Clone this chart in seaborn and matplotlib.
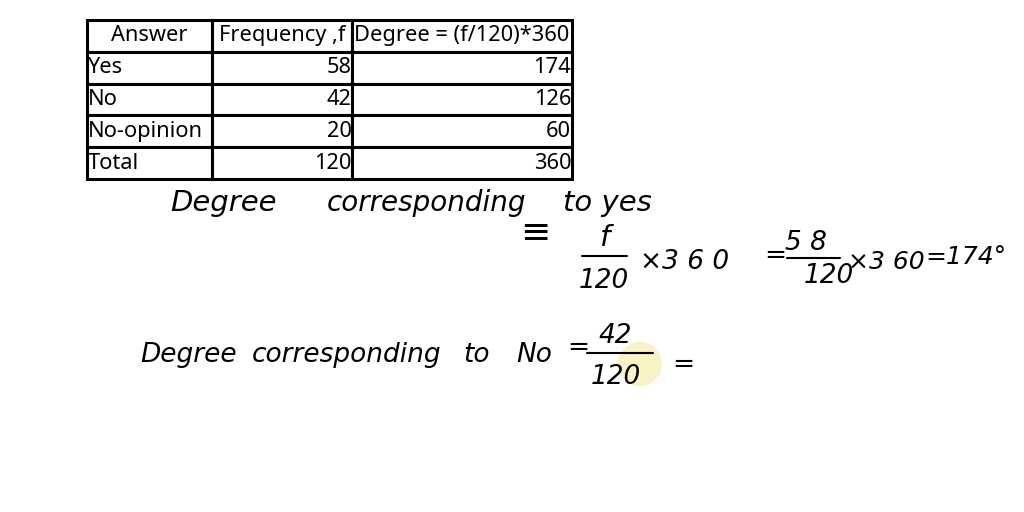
import matplotlib.pyplot as plt
import seaborn as sns
from matplotlib.patches import Circle

sns.set_theme(style='white')
plt.rcParams['font.family'] = ['Noto Sans', 'DejaVu Sans']

answers = ['Yes', 'No', 'No-opinion', 'Total']
freq = [58, 42, 20, 120]
degree = [174, 126, 60, 360]
header = ['Answer', 'Frequency ,f', 'Degree = (f/120)*360']

fig = plt.figure(figsize=(10.24, 5.12), dpi=100)
ax = fig.add_axes([0, 0, 1, 1])
ax.set_xlim(0, 1024)
ax.set_ylim(512, 0)
ax.axis('off')

# table
rows = [[a, str(f), str(d)] for a, f, d in zip(answers, freq, degree)]
tab = ax.table(cellText=rows, colLabels=header,
               colWidths=[125, 140, 220],
               bbox=[87 / 1024, (512 - 179) / 512, 485 / 1024, 159 / 512])
tab.auto_set_font_size(False)
for (r, c), cell in tab.get_celld().items():
    cell.set_linewidth(2.2)
    cell.set_edgecolor('black')
    cell.get_text().set_fontsize(15.7)
    cell.get_text().set_color('black')
    cell.PAD = 0.004
    if r == 0:
        cell.get_text().set_ha('center')
    elif c == 0:
        cell.get_text().set_ha('left')
        cell._loc = 'left'
    else:
        cell.get_text().set_ha('right')
        cell._loc = 'right'

# handwritten working
hand = dict(color='black', fontsize=19, family=['DejaVu Sans'], style='italic', va='center')
ax.text(170, 203, 'Degree', **{**hand, 'fontsize': 21})
ax.text(327, 203, 'corresponding', **{**hand, 'fontsize': 20})
ax.text(563, 203, 'to yes', **{**hand, 'fontsize': 21})

ax.text(535, 232, '≡', ha='center', **{**hand, 'fontsize': 26})
ax.text(604, 238, 'f', ha='center', **{**hand, 'fontsize': 21})
ax.plot([582, 627], [256, 256], color='black', lw=1.5)
ax.text(604, 281, '120', ha='center', **hand)
ax.text(640, 262, '×3 6 0', **hand)

ax.text(775, 256, '=', ha='center', **hand)
ax.text(806, 243, '5 8', ha='center', **hand)
ax.plot([787, 840], [258, 258], color='black', lw=1.5)
ax.text(829, 276, '120', ha='center', **hand)
ax.text(848, 262, '×3 60', **{**hand, 'fontsize': 18})
ax.text(925, 257, '=174°', **{**hand, 'fontsize': 18})

ax.text(140, 355, 'Degree', **hand)
ax.text(252, 355, 'corresponding', **hand)
ax.text(463, 355, 'to', **hand)
ax.text(516, 355, 'No', **hand)
ax.text(578, 348, '=', ha='center', **hand)
ax.text(615, 336, '42', ha='center', **hand)
ax.plot([587, 653], [353, 353], color='black', lw=1.5)
ax.add_patch(Circle((640, 364), 22, color='#f7eeb0', alpha=0.75, lw=0))
ax.text(616, 377, '120', ha='center', **hand)
ax.text(683, 365, '=', ha='center', **hand)

fig.savefig('out.png', dpi=100)
